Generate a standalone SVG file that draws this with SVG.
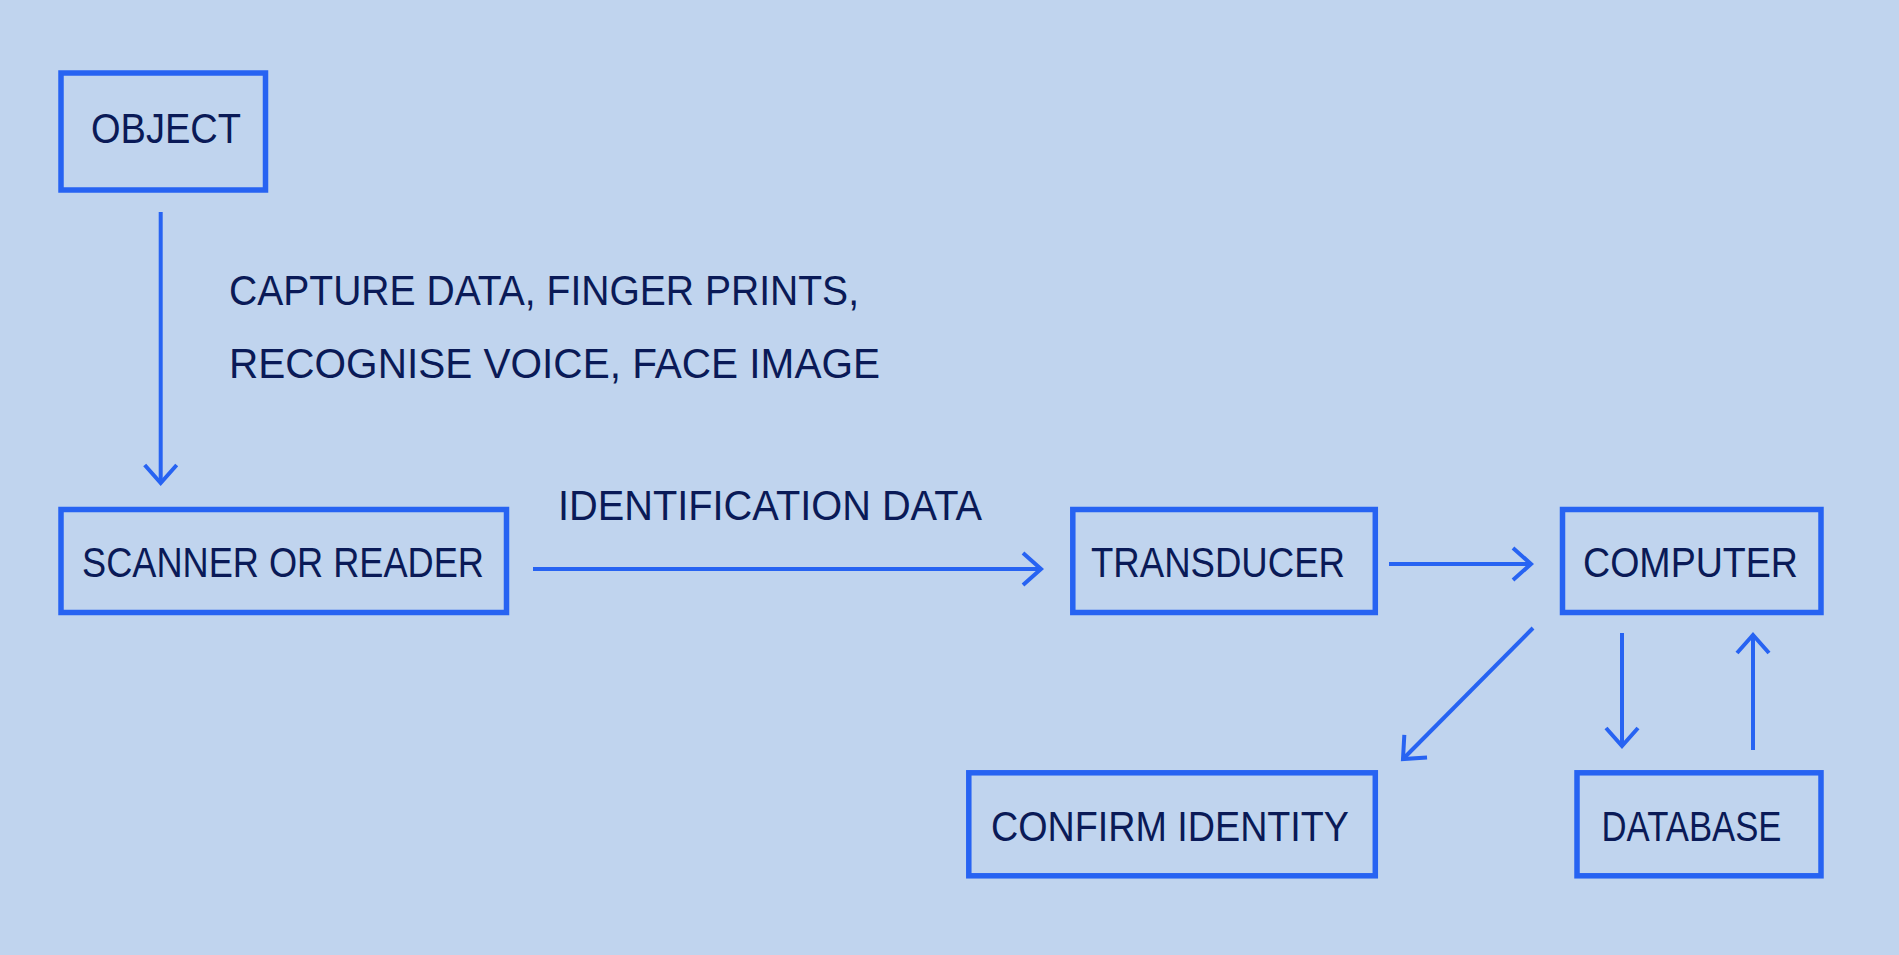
<svg xmlns="http://www.w3.org/2000/svg" width="1899" height="955" viewBox="0 0 1899 955">
  <style>
    .box { fill: none; stroke: #2763F2; stroke-width: 5.5; }
    .lbl { font-family: "Liberation Sans", Arial, sans-serif; font-size: 42px; fill: #0A1A57; }
    .con { fill: none; stroke: #2763F2; stroke-width: 4; marker-end: url(#chev); }
  </style>
  <defs>
    <marker id="chev" markerUnits="userSpaceOnUse" markerWidth="50" markerHeight="50" viewBox="-30 -25 50 50" refX="0" refY="0" orient="auto" overflow="visible">
      <path d="M-18,-16 L0,0 L-18,16" fill="none" stroke="#2763F2" stroke-width="4"/>
    </marker>
  </defs>
  <rect x="0" y="0" width="1899" height="955" fill="#C0D4EE"/>

  <g id="object">
    <rect class="box" x="61" y="73" width="204.5" height="117"/>
    <text class="lbl" x="91" y="142.5" textLength="150" lengthAdjust="spacingAndGlyphs">OBJECT</text>
  </g>

  <g id="capture-label">
    <text class="lbl" x="229" y="305" textLength="630" lengthAdjust="spacingAndGlyphs">CAPTURE DATA, FINGER PRINTS,</text>
    <text class="lbl" x="229" y="377.7" textLength="651" lengthAdjust="spacingAndGlyphs">RECOGNISE VOICE, FACE IMAGE</text>
  </g>

  <g id="scanner">
    <rect class="box" x="61" y="509.5" width="445.5" height="103"/>
    <text class="lbl" x="82" y="577.3" textLength="402" lengthAdjust="spacingAndGlyphs">SCANNER OR READER</text>
  </g>

  <g id="identification-label">
    <text class="lbl" x="558" y="520" textLength="424" lengthAdjust="spacingAndGlyphs">IDENTIFICATION DATA</text>
  </g>

  <g id="transducer">
    <rect class="box" x="1072.8" y="509.5" width="302.5" height="103"/>
    <text class="lbl" x="1091" y="577.3" textLength="254" lengthAdjust="spacingAndGlyphs">TRANSDUCER</text>
  </g>

  <g id="computer">
    <rect class="box" x="1562.5" y="509.5" width="258.5" height="103"/>
    <text class="lbl" x="1583" y="577.3" textLength="215" lengthAdjust="spacingAndGlyphs">COMPUTER</text>
  </g>

  <g id="confirm-identity">
    <rect class="box" x="968.8" y="772.8" width="406.5" height="103"/>
    <text class="lbl" x="991" y="841" textLength="358" lengthAdjust="spacingAndGlyphs">CONFIRM IDENTITY</text>
  </g>

  <g id="database">
    <rect class="box" x="1577" y="772.8" width="244" height="103"/>
    <text class="lbl" x="1601.5" y="841" textLength="180" lengthAdjust="spacingAndGlyphs">DATABASE</text>
  </g>

  <g id="connectors">
    <line class="con" x1="160.7" y1="212" x2="160.7" y2="483"/>
    <line class="con" x1="533" y1="569" x2="1041" y2="569"/>
    <line class="con" x1="1389" y1="564" x2="1531" y2="564"/>
    <line class="con" x1="1533" y1="628" x2="1403" y2="759"/>
    <line class="con" x1="1622" y1="633" x2="1622" y2="746"/>
    <line class="con" x1="1753" y1="750" x2="1753" y2="635"/>
  </g>
</svg>
